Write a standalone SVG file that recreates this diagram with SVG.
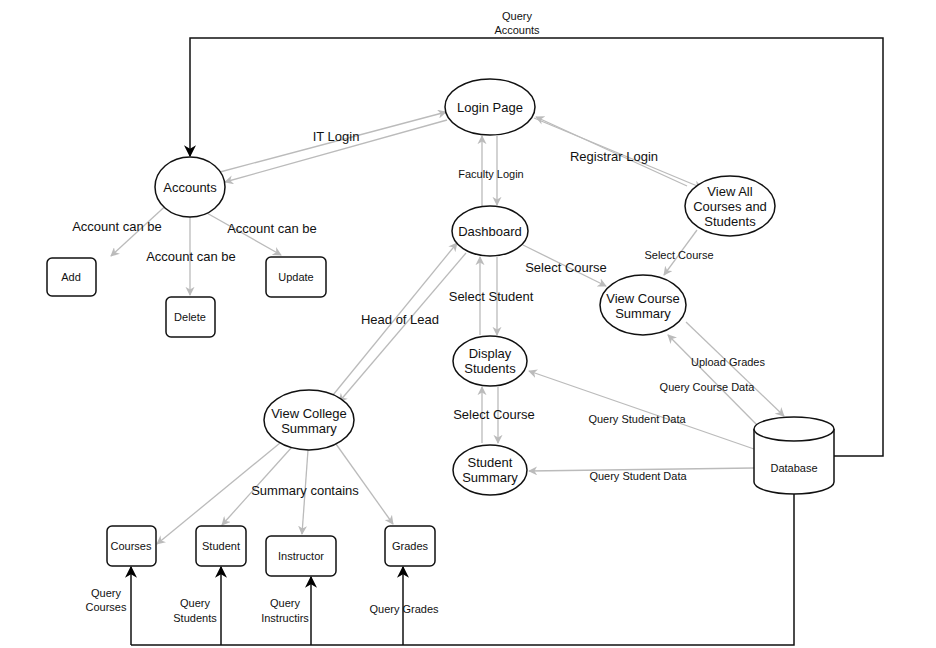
<svg xmlns="http://www.w3.org/2000/svg" width="936" height="648" viewBox="0 0 936 648">
<defs>
<marker id="ga" viewBox="0 0 10 10" refX="9" refY="5" markerWidth="7" markerHeight="7" orient="auto"><path d="M0,0 L10,5 L0,10 L3,5 z" fill="#bbb"/></marker>
<marker id="ba" viewBox="0 0 10 10" refX="9" refY="5" markerWidth="8" markerHeight="8" orient="auto"><path d="M0,0 L10,5 L0,10 L3,5 z" fill="#000"/></marker>
</defs>
<style>
text{font-family:"Liberation Sans",Arial,sans-serif;font-size:13px;fill:#111;text-anchor:middle}
.s{font-size:11px}
.n{fill:#fff;stroke:#111;stroke-width:1.5}
.g{stroke:#bbb;stroke-width:1.3;fill:none;marker-end:url(#ga)}
.b{stroke:#111;stroke-width:1.5;fill:none}
.bm{marker-end:url(#ba)}
</style>
<rect width="936" height="648" fill="#fff"/>
<g id="connectors">
<path class="b bm" d="M834,456 H883 V38 H190 V156"/>
<path class="b" d="M794,494 V645 H131"/>
<path class="b bm" d="M131,645 V567"/>
<path class="b bm" d="M221,645 V567"/>
<path class="b bm" d="M311,645 V577"/>
<path class="b bm" d="M403,645 V567"/>
<path class="g" d="M220,172 L446,112"/>
<path class="g" d="M447,120 L225,182"/>
<path class="g" d="M482,206 L482,136"/>
<path class="g" d="M497,136 L497,205"/>
<path class="g" d="M534,118 L702,188"/>
<path class="g" d="M687,186 L536,117"/>
<path class="g" d="M697,230 L664,275"/>
<path class="g" d="M523,245 L606,286"/>
<path class="g" d="M480,335 L480,257"/>
<path class="g" d="M497,257 L497,335"/>
<path class="g" d="M482,443 L482,387"/>
<path class="g" d="M498,387 L498,443"/>
<path class="g" d="M333,395 L457,243"/>
<path class="g" d="M466,253 L339,402"/>
<path class="g" d="M686,322 L784,416"/>
<path class="g" d="M757,425 L668,335"/>
<path class="g" d="M754,449 L529,371"/>
<path class="g" d="M754,468 L529,471"/>
<path class="g" d="M172,200 L111,256"/>
<path class="g" d="M190,217 L190,295"/>
<path class="g" d="M205,212 L281,255"/>
<path class="g" d="M280,443 L157,544"/>
<path class="g" d="M292,447 L222,525"/>
<path class="g" d="M308,450 L302,534"/>
<path class="g" d="M336,444 L393,524"/>
</g>
<g id="labels">
<text x="517" y="20" class="s">Query</text><text x="517" y="34" class="s">Accounts</text>
<text x="336" y="141">IT Login</text>
<text x="491" y="178" class="s">Faculty Login</text>
<text x="614" y="161">Registrar Login</text>
<text x="117" y="231">Account can be</text>
<text x="191" y="261">Account can be</text>
<text x="272" y="233">Account can be</text>
<text x="679" y="259" class="s">Select Course</text>
<text x="566" y="272">Select Course</text>
<text x="491" y="301">Select Student</text>
<text x="400" y="324">Head of Lead</text>
<text x="728" y="366" class="s">Upload Grades</text>
<text x="707" y="391" class="s">Query Course Data</text>
<text x="637" y="423" class="s">Query Student Data</text>
<text x="494" y="419">Select Course</text>
<text x="638" y="480" class="s">Query Student Data</text>
<text x="305" y="495">Summary contains</text>
<text x="106" y="597" class="s">Query</text><text x="106" y="611" class="s">Courses</text>
<text x="195" y="607" class="s">Query</text><text x="195" y="622" class="s">Students</text>
<text x="285" y="607" class="s">Query</text><text x="285" y="622" class="s">Instructirs</text>
<text x="404" y="613" class="s">Query Grades</text>
</g>
<g id="login"><ellipse class="n" cx="490" cy="107" rx="45" ry="28"/><text x="490" y="112">Login Page</text></g>
<g id="accounts"><ellipse class="n" cx="190" cy="187" rx="35" ry="30"/><text x="190" y="192">Accounts</text></g>
<g id="dashboard"><ellipse class="n" cx="490" cy="231" rx="38" ry="25"/><text x="490" y="236">Dashboard</text></g>
<g id="viewall"><ellipse class="n" cx="730" cy="206" rx="45" ry="30"/><text x="730" y="196">View All</text><text x="730" y="211">Courses and</text><text x="730" y="226">Students</text></g>
<g id="coursesummary"><ellipse class="n" cx="643" cy="305" rx="43" ry="30"/><text x="643" y="303">View Course</text><text x="643" y="318">Summary</text></g>
<g id="display"><ellipse class="n" cx="490" cy="361" rx="37" ry="25"/><text x="490" y="358">Display</text><text x="490" y="373">Students</text></g>
<g id="studentsummary"><ellipse class="n" cx="490" cy="470" rx="37" ry="25"/><text x="490" y="467">Student</text><text x="490" y="482">Summary</text></g>
<g id="college"><ellipse class="n" cx="309" cy="420" rx="45" ry="30"/><text x="309" y="418">View College</text><text x="309" y="433">Summary</text></g>
<g id="add"><rect class="n" x="47" y="258" width="49" height="38" rx="5"/><text x="71" y="281" class="s">Add</text></g>
<g id="delete"><rect class="n" x="166" y="297" width="49" height="40" rx="5"/><text x="190" y="321" class="s">Delete</text></g>
<g id="update"><rect class="n" x="266" y="257" width="60" height="40" rx="5"/><text x="296" y="281" class="s">Update</text></g>
<g id="courses"><rect class="n" x="107" y="526" width="49" height="40" rx="5"/><text x="131" y="550" class="s">Courses</text></g>
<g id="student"><rect class="n" x="196" y="526" width="50" height="40" rx="5"/><text x="221" y="550" class="s">Student</text></g>
<g id="instructor"><rect class="n" x="266" y="536" width="70" height="40" rx="5"/><text x="301" y="560" class="s">Instructor</text></g>
<g id="grades"><rect class="n" x="385" y="526" width="50" height="40" rx="5"/><text x="410" y="550" class="s">Grades</text></g>
<g id="database"><path class="n" d="M754,429 V482 A40,12 0 0 0 834,482 V429"/><ellipse class="n" cx="794" cy="429" rx="40" ry="12"/><text x="794" y="472" class="s">Database</text></g>
</svg>
